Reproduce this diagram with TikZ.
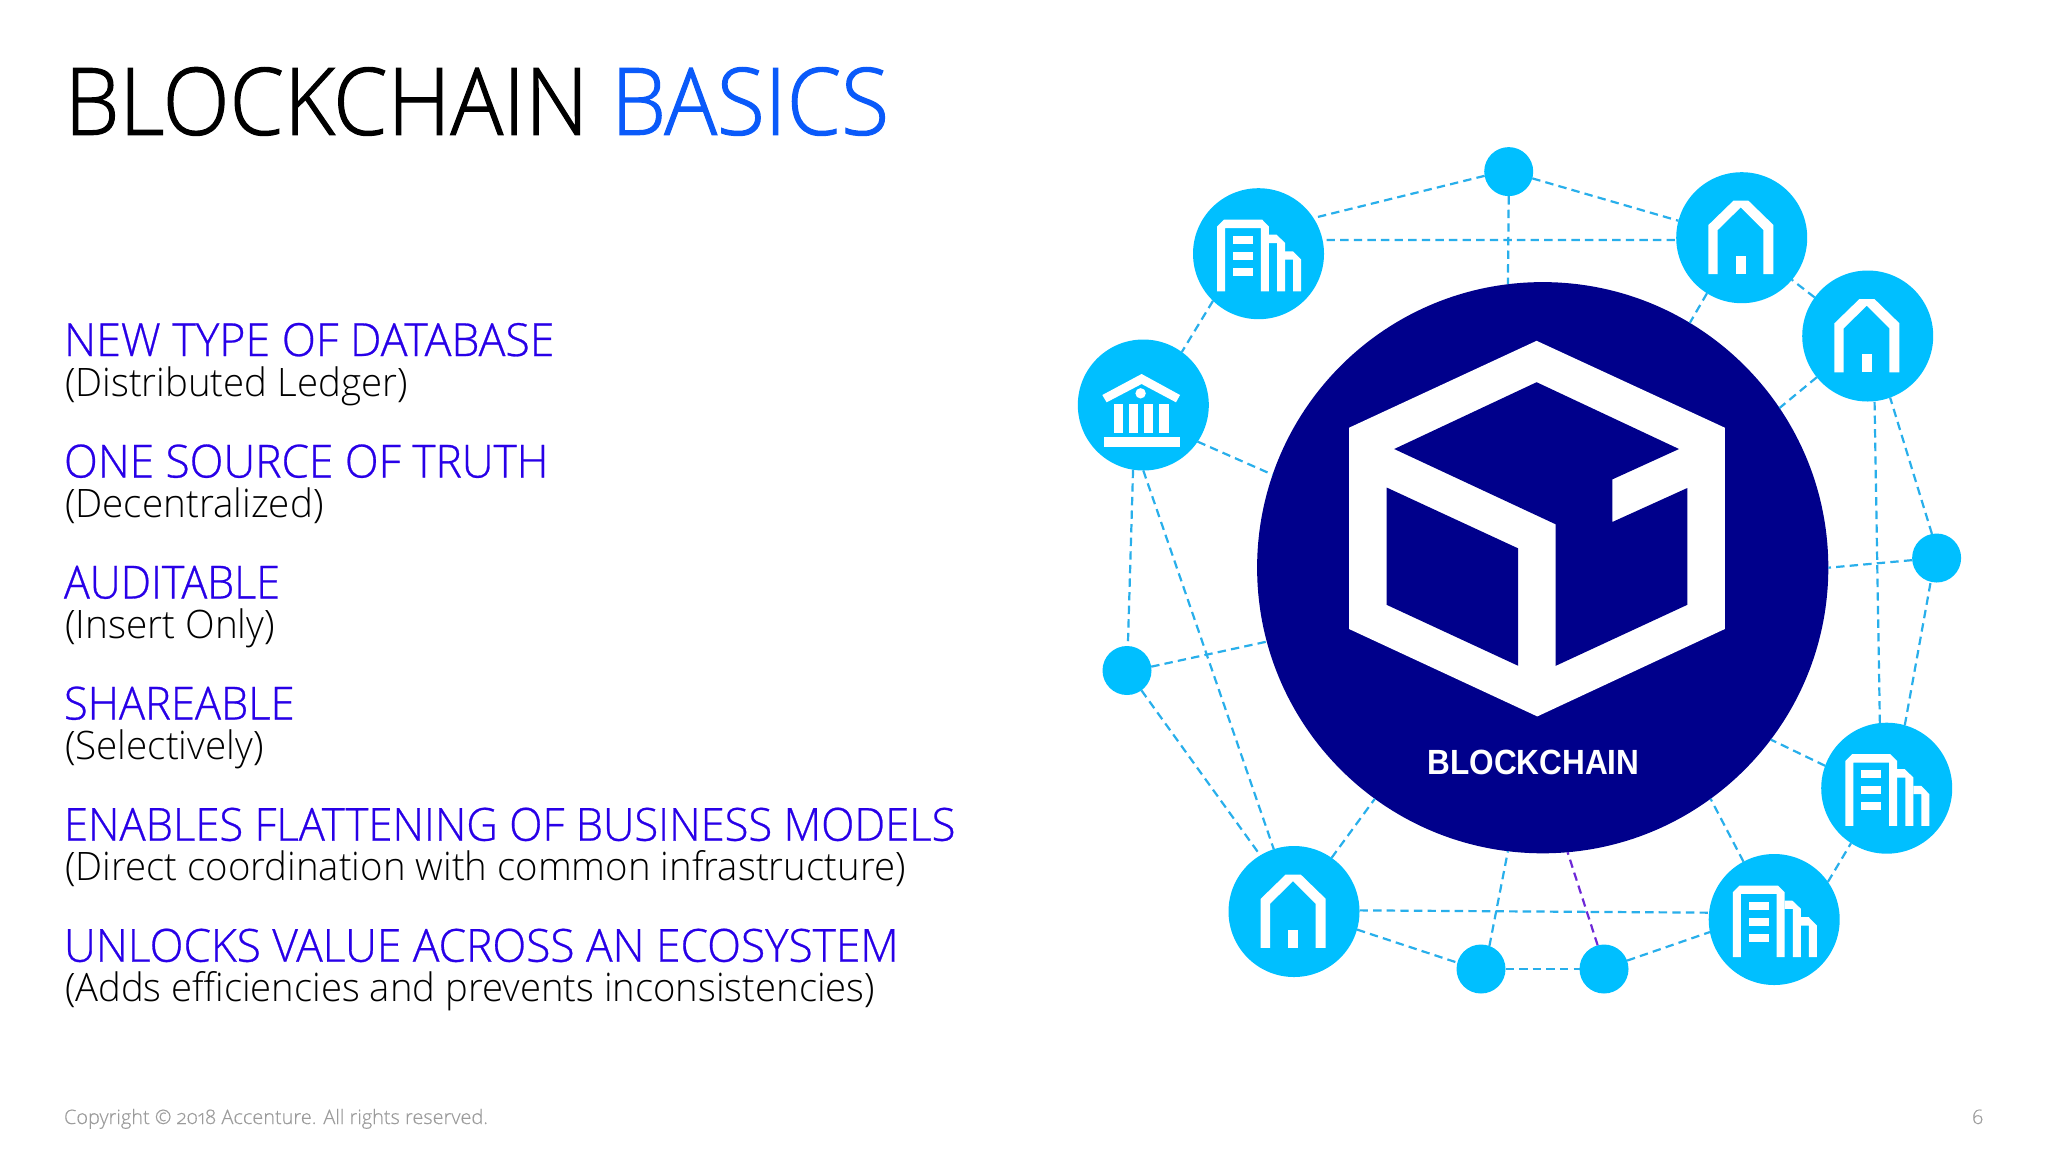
\documentclass[tikz,border=0pt]{standalone}
\usepackage{fontspec}
\setmainfont{Open Sans Light}[Numbers=OldStyle]
\newfontfamily\boldlabel{Liberation Sans Bold}
\newcommand{\fitw}[2]{\resizebox{#1pt}{\height}{#2}}
\definecolor{titleblue}{RGB}{10,90,250}
\definecolor{headblue}{RGB}{40,0,232}
\definecolor{footgrey}{RGB}{155,155,155}
\definecolor{nodeblue}{RGB}{0,191,255}
\definecolor{linkblue}{RGB}{40,175,235}
\definecolor{deepnavy}{RGB}{0,0,139}
\definecolor{linkviolet}{RGB}{110,40,215}
\tikzset{
  txt/.style={anchor=base west,inner sep=0pt,outer sep=0pt},
  head/.style={txt,text=headblue,font=\fontsize{22.8}{26}\selectfont\addfontfeature{FakeBold=0.6}},
  sub/.style={txt,text=black,font=\fontsize{19.6}{22}\selectfont},
  foot/.style={txt,text=footgrey,font=\fontsize{10}{12}\selectfont\addfontfeature{FakeBold=0.3}},
  big/.style={circle,fill=nodeblue,minimum size=65.5pt,inner sep=0pt,outer sep=0pt},
  small/.style={circle,fill=nodeblue,minimum size=24.5pt,inner sep=0pt,outer sep=0pt},
  hub/.style={circle,fill=deepnavy,minimum size=285.6pt,inner sep=0pt,outer sep=0pt},
  link/.style={draw=linkblue,line width=1.1pt,dash pattern=on 4.2pt off 2.6pt},
  linkv/.style={link,draw=linkviolet},
  bldicon/.pic={
    \fill[white] (-41.3,37.7)--(-41.3,-27.3)--(-34.7,-34)--(3.7,-34)--(10.3,-27.3)--(10.3,37.7)--(2.3,37.7)--(2.3,-25.7)--(-33.3,-25.7)--(-33.3,37.7)--cycle;
    \fill[white] (-25.7,-18) rectangle (-5.7,-10);
    \fill[white] (-25.7,-2) rectangle (-5.7,6);
    \fill[white] (-25.7,14) rectangle (-5.7,22);
    \fill[white] (10.3,-19)--(18,-19)--(26.7,-10.7)--(26.7,37.7)--(18.7,37.7)--(18.7,-10.7)--(10.3,-10.7)--cycle;
    \fill[white] (26.7,-2.3)--(34.5,-2.3)--(42.7,6)--(42.7,37.7)--(34.7,37.7)--(34.7,6)--(26.7,6)--cycle;
  },
  houseicon/.pic={
    \fill[white] (-33.3,36.3)--(-33.3,-12.7)--(-8.3,-37)--(6.7,-37)--(31.7,-12.7)--(31.7,36.3)--(21.7,36.3)--(21.7,-7.7)--(-1,-30.3)--(-24,-7.7)--(-24,36.3)--cycle;
    \fill[white] (-5.7,18) rectangle (4,36.3);
  },
  bankicon/.pic={
    \fill[white] (-41,-10)--(-1.7,-31)--(36.7,-10)--(32.7,-2.7)--(-1.7,-21)--(-36.7,-2.7)--cycle;
    \fill[white] (-2.7,-11.7) circle[radius=2.6pt];
    \fill[white] (-29.3,-1) rectangle (-20,28);
    \fill[white] (-14.3,-1) rectangle (-5,28);
    \fill[white] (0.7,-1) rectangle (10,28);
    \fill[white] (15.3,-1) rectangle (25.3,28);
    \fill[white] (-39.3,32.3) rectangle (36.7,42);
  }
}
\begin{document}
\begin{tikzpicture}[x=0.5pt,y=-0.5pt]
\useasboundingbox (0,0) rectangle (2048,1152);
\fill[white] (0,0) rectangle (2048,1152);
% title
\node[txt,text=black,font=\fontsize{46.5}{50}\selectfont\addfontfeature{FakeBold=1.3}] (title) at (64.5,134.7)
  {\fitw{412.2}{BLOCKCHAIN \textcolor{titleblue}{BASICS}}};
% left column
\node[head] (h1) at (64,356)   {\fitw{245.2}{NEW TYPE OF DATABASE}};
\node[sub]  (s1) at (65,396)   {\fitw{171.3}{(Distributed Ledger)}};
\node[head] (h2) at (64,477.5) {\fitw{242.3}{ONE SOURCE OF TRUTH}};
\node[sub]  (s2) at (65,517.5) {\fitw{129.3}{(Decentralized)}};
\node[head] (h3) at (64,598.5) {\fitw{108}{AUDITABLE}};
\node[sub]  (s3) at (65,638.5) {\fitw{105}{(Insert Only)}};
\node[head] (h4) at (64,719.5) {\fitw{115.3}{SHAREABLE}};
\node[sub]  (s4) at (65,759)   {\fitw{99.3}{(Selectively)}};
\node[head] (h5) at (64,840.7) {\fitw{445.7}{ENABLES FLATTENING OF BUSINESS MODELS}};
\node[sub]  (s5) at (65,880)   {\fitw{420.3}{(Direct coordination with common infrastructure)}};
\node[head] (h6) at (64,961.7) {\fitw{417.3}{UNLOCKS VALUE ACROSS AN ECOSYSTEM}};
\node[sub]  (s6) at (65,1001)  {\fitw{405}{(Adds efficiencies and prevents inconsistencies)}};
\node[foot] (cr) at (64,1124)  {\fitw{212}{Copyright © 2018 Accenture. All rights reserved.}};
\node[foot] (pn) at (1972,1124) {6};
% nodes
\node[hub] (HUB) at (1542.7,567.7) {};
\node[small] (T) at (1508.7,171.6) {};
\node[big] (B1) at (1258.5,253.7) {};
\node[big] (H1) at (1741.7,237.7) {};
\node[big] (H2) at (1867.7,336) {};
\node[big] (BK) at (1143.3,405) {};
\node[small] (R) at (1936.6,558) {};
\node[small] (L) at (1127,670.5) {};
\node[big] (BR) at (1886.7,788.2) {};
\node[big] (HB) at (1294,911.5) {};
\node[big] (BB) at (1774.2,919.5) {};
\node[small] (A) at (1481,969) {};
\node[small] (C) at (1604,969) {};
% icons
\pic at (B1) {bldicon};
\pic at (BR) {bldicon};
\pic at (BB) {bldicon};
\pic at (H1) {houseicon};
\pic at (H2) {houseicon};
\pic at (HB) {houseicon};
\pic at (BK) {bankicon};
% cube
\fill[white] (1536.6,340.8)--(1724.8,427.7)--(1724.8,629)--(1537.3,716.4)--(1349.1,629)--(1349.1,427.7)--cycle;
\fill[deepnavy] (1394.2,449)--(1536.6,382.2)--(1679,449)--(1612.3,479.4)--(1612.3,522)--(1687.3,488)--(1687.3,604.8)--(1555.7,665.8)--(1555.7,524.3)--cycle;
\fill[deepnavy] (1386.6,487.5)--(1518.2,548.4)--(1518.2,665.8)--(1386.6,604.8)--cycle;
\node[inner sep=0pt,text=white,font=\boldlabel\fontsize{17.5}{18}\selectfont] (lab) at (1533.5,762.5) {\fitw{106}{BLOCKCHAIN}};
% connectors
\draw[link] (T.190.7) -- (B1.33.5);
\draw[link] (T.344.4) -- (H1.165.2);
\draw[link] (T.270) -- (HUB.97.2);
\draw[link,shorten <=2pt] (B1.12) -- (H1.182);
\draw[link] (B1.226.5) -- (BK.54.7);
\draw[link] (BK.326) -- (HUB.161.5);
\draw[link] (BK.261) -- (L.88.5);
\draw[link] (BK.270.6) -- (HB.108.3);
\draw[link] (L.9.2) -- (HUB.195.4);
\draw[link] (L.306.8) -- (HB.121);
\draw[link] (HB.55) -- (HUB.234.6);
\draw[link] (HB.1) -- (BB.174.5);
\draw[link] (HB.344.4) -- (A.165);
\draw[link] (A.0) -- (C.180);
\draw[link] (A.70.6) -- (HUB.263.4);
\draw[linkv] (C.105.9) -- (HUB.275.6);
\draw[link] (C.20.3) -- (BB.191.9);
\draw[link] (BB.118.4) -- (HUB.306.6);
\draw[link] (BB.35.8) -- (BR.237.4);
\draw[link] (BR.160.8) -- (HUB.323.5);
\draw[link] (BR.96.1) -- (H2.276.2);
\draw[link] (BR.74.3) -- (R.256.7);
\draw[link] (R.101.4) -- (H2.290.3);
\draw[link] (R.185.4) -- (HUB.0.3);
\draw[link] (H2.219.8) -- (HUB.34.2);
\draw[link] (H2.144.7) -- (H1.320.7);
\draw[link] (H1.238.4) -- (HUB.59.2);
\end{tikzpicture}
\end{document}
